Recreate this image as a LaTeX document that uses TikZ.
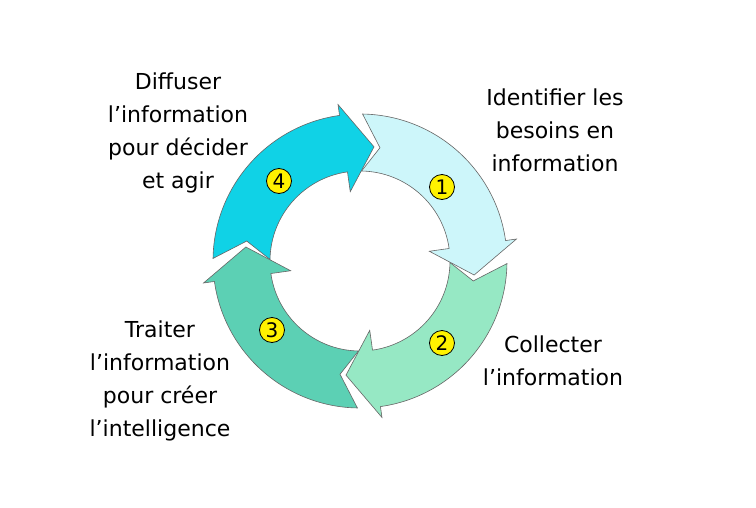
\documentclass[tikz,border=0pt]{standalone}
\usepackage{fontspec}
\setmainfont{DejaVu Sans}
\definecolor{cA}{RGB}{205,246,250}
\definecolor{cB}{RGB}{150,232,196}
\definecolor{cC}{RGB}{92,208,180}
\definecolor{cD}{RGB}{16,210,230}
\begin{document}
\begin{tikzpicture}[x=1pt,y=1pt,
  seg/.style={draw=black!60,line width=0.6pt},
  num/.style={circle,draw=black,line width=0.8pt,fill=yellow,inner sep=0pt,minimum size=25pt,font=\fontsize{20}{20}\selectfont},
  lab/.style={align=center,font=\fontsize{22}{33}\selectfont}]
\useasboundingbox (-360,-246) rectangle (396,261);
\def\Ro{147}\def\Ri{90}\def\Rm{115}
\newcommand\segpath[2]{%
  \pgfmathsetmacro\sA{#1}\pgfmathsetmacro\bA{#1-81}\pgfmathsetmacro\tA{#1-96}\pgfmathsetmacro\nA{#1-9}%
  \path[seg,fill=#2] (\sA:\Ro pt) arc[start angle=\sA,end angle=\bA,radius=\Ro pt] -- (\bA:158pt) -- (\tA:\Rm pt) -- (\bA:70pt) -- (\bA:\Ri pt) arc[start angle=\bA,end angle=\sA,radius=\Ri pt] -- (\nA:\Rm pt) -- cycle;}
\segpath{89}{cA}
\segpath{-1}{cB}
\segpath{-91}{cC}
\segpath{-181}{cD}
\node[num] (n1) at (82,74) {1};
\node[num] (n2) at (82,-82) {2};
\node[num] (n3) at (-88,-69) {3};
\node[num] (n4) at (-81,80) {4};
\node[lab] (l1) at (195,131) {Identifier les\\besoins en\\information};
\node[lab] (l2) at (193,-100) {Collecter\\l’information};
\node[lab] (l3) at (-200,-120) {Traiter\\l’information\\pour créer\\l’intelligence};
\node[lab] (l4) at (-182,128) {Diffuser\\l’information\\pour décider\\et agir};
\end{tikzpicture}
\end{document}
